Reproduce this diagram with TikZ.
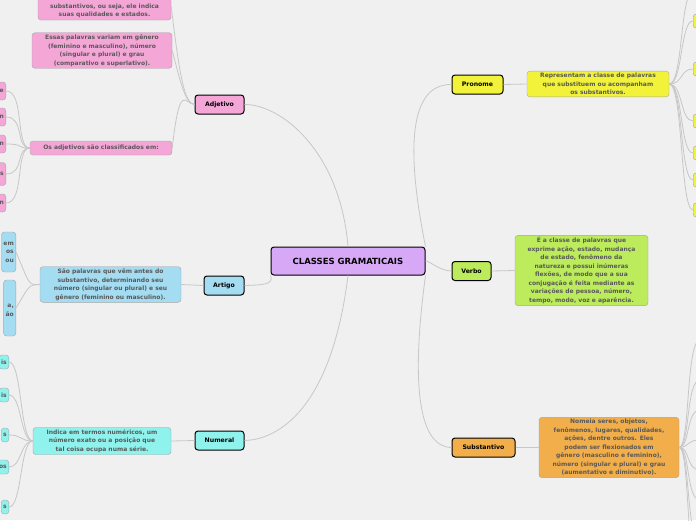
\documentclass[tikz,border=0pt]{standalone}
\usepackage{fontspec}
\setmainfont{DejaVu Sans}
\definecolor{pk}{HTML}{F4A6D7}
\definecolor{bl}{HTML}{A4DCF2}
\definecolor{cy}{HTML}{8FF2EC}
\definecolor{ye}{HTML}{F2F23A}
\definecolor{gr}{HTML}{BCEB5C}
\definecolor{og}{HTML}{F2AE4A}
\definecolor{vi}{HTML}{D6A8F5}
\begin{document}
\begin{tikzpicture}[x=1pt,y=-1pt,
 box/.style={draw=black!35,rounded corners=3pt,align=center,font=\bfseries\fontsize{6}{8.5}\selectfont,text=black!65,inner sep=2pt},
 main/.style={draw=black,line width=1pt,rounded corners=3pt,font=\bfseries\fontsize{6.2}{8}\selectfont,minimum height=19pt,inner sep=2pt},
 ln/.style={draw=black!22,line width=0.8pt}]
\useasboundingbox (0,0) rectangle (696,520);
\fill[gray!12] (0,0) rectangle (696,520);
\clip (0,0) rectangle (696,520);
% center
\node[main,fill=vi,minimum width=154pt,minimum height=28pt,font=\bfseries\fontsize{8.5}{10}\selectfont] (c) at (348,261) {CLASSES GRAMATICAIS};
\node[main,fill=pk,minimum width=49pt] (adj) at (219.5,104.5) {Adjetivo};
\node[main,fill=bl,minimum width=40pt] (art) at (224,285.5) {Artigo};
\node[main,fill=cy,minimum width=49pt] (num) at (219.5,440.5) {Numeral};
\node[main,fill=ye,minimum width=51pt] (pro) at (477.5,84.5) {Pronome};
\node[main,fill=gr,minimum width=39pt] (ver) at (471.5,271) {Verbo};
\node[main,fill=og,minimum width=63pt] (sub) at (483.5,447.5) {Substantivo};
% children
\node[box,fill=pk,minimum width=133pt] (p1) at (104.5,6.5) {Atribui características aos\\substantivos, ou seja, ele indica\\suas qualidades e estados.};
\node[box,fill=pk,minimum width=140pt] (p2) at (102,50.5) {Essas palavras variam em gênero\\(feminino e masculino), número\\(singular e plural) e grau\\(comparativo e superlativo).};
\node[box,fill=pk,minimum width=142pt,minimum height=14pt] (p3) at (101,148) {Os adjetivos são classificados em:};
\node[box,fill=bl,minimum width=141pt] (b1) at (110.5,284.5) {São palavras que vêm antes do\\substantivo, determinando seu\\número (singular ou plural) e seu\\gênero (feminino ou masculino).};
\node[box,fill=cy,minimum width=138pt] (cyb) at (102,441) {Indica em termos numéricos, um\\número exato ou a posição que\\tal coisa ocupa numa série.};
\node[box,fill=ye,minimum width=142pt] (y1) at (598,84) {Representam a classe de palavras\\que substituem ou acompanham\\os substantivos.};
\node[box,fill=gr,minimum width=133pt] (g1) at (581.5,270.5) {É a classe de palavras que\\exprime ação, estado, mudança\\de estado, fenômeno da\\natureza e possui inúmeras\\flexões, de modo que a sua\\conjugação é feita mediante as\\variações de pessoa, número,\\tempo, modo, voz e aparência.};
\node[box,fill=og,minimum width=140pt] (o1) at (609,447.5) {Nomeia seres, objetos,\\fenômenos, lugares, qualidades,\\ações, dentre outros. Eles\\podem ser flexionados em\\gênero (masculino e feminino),\\número (singular e plural) e grau\\(aumentativo e diminutivo).};
% main connectors
\draw[ln] (c.north) .. controls (340,150) and (280,104) .. (adj.east);
\draw[ln] (c.south west) .. controls (275,285) and (260,285) .. (art.east);
\draw[ln] (c.south) .. controls (330,420) and (270,440) .. (num.east);
\draw[ln] (c.north east) .. controls (400,120) and (420,84) .. (pro.west);
\draw[ln] (c.east) .. controls (430,261) and (440,271) .. (ver.west);
\draw[ln] (c.south east) .. controls (410,390) and (420,447) .. (sub.west);
\draw[ln] (pro.east) -- (y1.west);
\draw[ln] (ver.east) -- (g1.west);
\draw[ln] (sub.east) -- (o1.west);
\draw[ln] (art.west) -- (b1.east);
\draw[ln] (num.west) -- (cyb.east);
\foreach \n in {p1,p2,p3} \draw[ln] (adj.west) .. controls (185,104) and (180,80) .. (\n.east);
% left pink leaves
\foreach \y/\t/\h in {91/e/18,117/n/18,144/n/18,174/s/23,203/n/18}{
 \node[box,fill=pk,anchor=east,minimum height=\h pt] (pl\y) at (6,\y) {\t};
 \draw[ln] (p3.west) .. controls (15,148) and (25,\y) .. (pl\y.east);}
% left blue leaves
\node[box,fill=bl,anchor=east,align=right,minimum height=40pt] (bl1) at (16,252) {em\\os\\ou};
\node[box,fill=bl,anchor=east,align=right,minimum height=56pt] (bl2) at (16,308) {\\a,\\ão};
\foreach \n in {bl1,bl2} \draw[ln] (b1.west) .. controls (28,285) and (30,285) .. (\n.east);
% left cyan leaves
\foreach \y/\t in {362/is,395/is,435/s,467/os,507/s}{
 \node[box,fill=cy,anchor=east,minimum height=14pt] (cl\y) at (9,\y) {\t};
 \draw[ln] (cyb.west) .. controls (20,441) and (22,\y) .. (cl\y.east);}
% right yellow leaves
\foreach \y in {-8,21,69,121,153,180,210}{
 \node[box,fill=ye,anchor=west,minimum height=14pt,minimum width=8pt] (yl\y) at (693,\y) {};
 \draw[ln] (y1.east) .. controls (683,84) and (680,\y) .. (yl\y.west);}
% right orange children off-page
\foreach \y in {340,380,410,440,470,500,540,580}{
 \coordinate (or\y) at (700,\y);
 \draw[ln] (o1.east) .. controls (690,447) and (686,\y) .. (or\y);}
\end{tikzpicture}
\end{document}
